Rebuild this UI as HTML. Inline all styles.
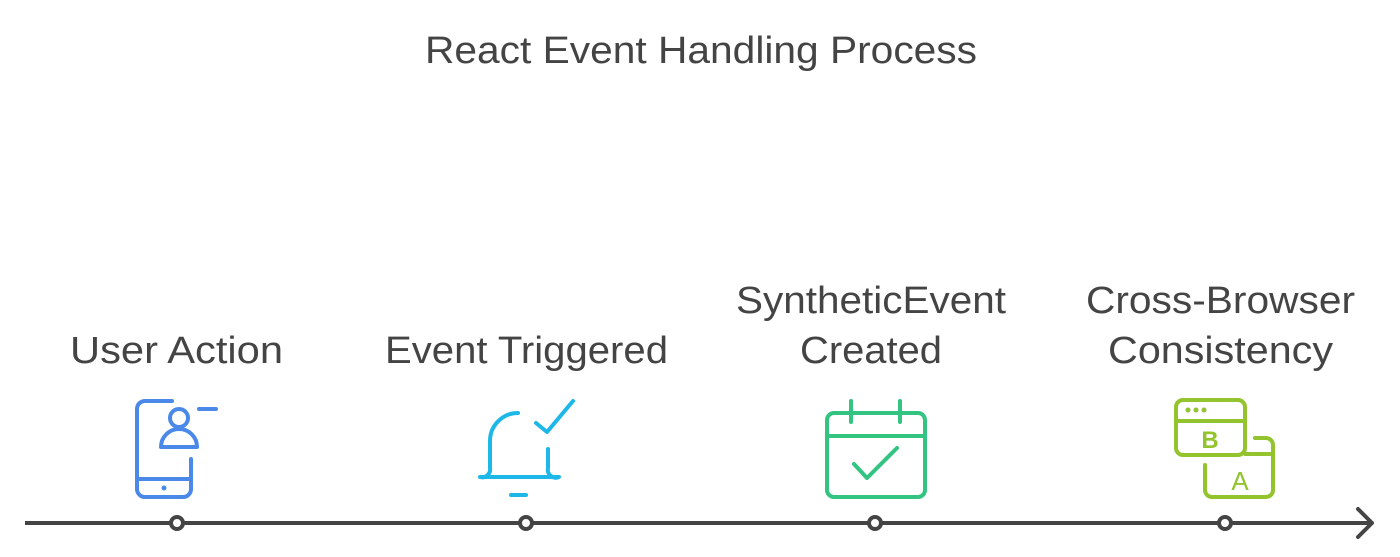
<!DOCTYPE html>
<html><head><meta charset="utf-8"><style>
html,body{margin:0;padding:0;background:#fff;}
svg{display:block}
text{font-family:"Liberation Sans",sans-serif;fill:#444;}
</style></head><body>
<svg width="1400" height="557" viewBox="0 0 1400 557" xmlns="http://www.w3.org/2000/svg">
<text x="425" y="63" font-size="38" textLength="552" lengthAdjust="spacingAndGlyphs">React Event Handling Process</text>
<g font-size="38">
<text x="70" y="363" textLength="213" lengthAdjust="spacingAndGlyphs">User Action</text>
<text x="385" y="363" textLength="283" lengthAdjust="spacingAndGlyphs">Event Triggered</text>
<text x="736" y="313" textLength="270" lengthAdjust="spacingAndGlyphs">SyntheticEvent</text>
<text x="800" y="363" textLength="142" lengthAdjust="spacingAndGlyphs">Created</text>
<text x="1086" y="313" textLength="269" lengthAdjust="spacingAndGlyphs">Cross-Browser</text>
<text x="1108" y="363" textLength="225" lengthAdjust="spacingAndGlyphs">Consistency</text>
</g>
<!-- timeline -->
<line x1="25" y1="523" x2="1372" y2="523" stroke="#444" stroke-width="4"/>
<polyline points="1358,509 1372,523 1358,537" fill="none" stroke="#444" stroke-width="4" stroke-linecap="round" stroke-linejoin="round"/>
<g fill="#fff" stroke="#444" stroke-width="4">
<circle cx="177" cy="523" r="6"/><circle cx="526" cy="523" r="6"/><circle cx="875" cy="523" r="6"/><circle cx="1225" cy="523" r="6"/>
</g>
<!-- phone -->
<g fill="none" stroke="#4a89e8" stroke-width="4" stroke-linecap="round" stroke-linejoin="round">
<path d="M172,401 H145 a8,8 0 0 0 -8,8 V489 a8,8 0 0 0 8,8 H183 a8,8 0 0 0 8,-8 V459"/>
<line x1="137" y1="479" x2="191" y2="479"/>
<circle cx="179" cy="418" r="9"/>
<path d="M161,447 a18,18 0 0 1 36,0 Z"/>
<line x1="199" y1="409" x2="216" y2="409"/>
</g>
<circle cx="164" cy="488" r="2.5" fill="#4a89e8"/>
<!-- bell -->
<g fill="none" stroke="#1eb8e8" stroke-width="4" stroke-linecap="round" stroke-linejoin="round">
<path d="M518,413 a28,28 0 0 0 -28,28 V468 a8,8 0 0 1 -10,9 H559 a8,8 0 0 1 -11,-9 V449"/>
<polyline points="536,423 547,432 573,401"/>
<line x1="511" y1="495" x2="526" y2="495"/>
</g>
<!-- calendar -->
<g fill="none" stroke="#33c482" stroke-width="4" stroke-linecap="round" stroke-linejoin="round">
<rect x="827" y="413" width="98" height="84" rx="7"/>
<line x1="827" y1="436" x2="925" y2="436"/>
<line x1="851" y1="401" x2="851" y2="422"/>
<line x1="900" y1="401" x2="900" y2="422"/>
<polyline points="854,464 867,478 897,448"/>
</g>
<!-- browser -->
<g fill="none" stroke="#93c42e" stroke-width="4" stroke-linecap="round" stroke-linejoin="round">
<rect x="1176" y="400" width="69" height="55" rx="7"/>
<line x1="1176" y1="421" x2="1245" y2="421"/>
<path d="M1255,438 H1266 a7,7 0 0 1 7,7 V490 a7,7 0 0 1 -7,7 H1212 a7,7 0 0 1 -7,-7 V465"/>
<line x1="1245" y1="454" x2="1273" y2="454"/>
</g>
<g fill="#93c42e"><circle cx="1188" cy="410" r="2.5"/><circle cx="1196" cy="410" r="2.5"/><circle cx="1204" cy="410" r="2.5"/></g>
<text x="1210" y="448" font-size="24" font-weight="bold" text-anchor="middle" style="fill:#93c42e">B</text>
<text x="1240" y="490" font-size="26" text-anchor="middle" style="fill:#93c42e">A</text>
</svg>
</body></html>
